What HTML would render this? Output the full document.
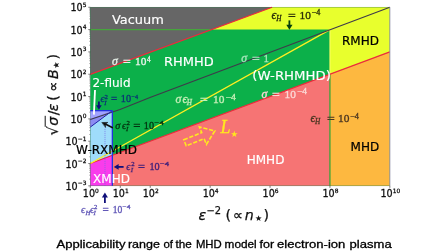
<!DOCTYPE html>
<html><head><meta charset="utf-8"><title>Applicability range of the MHD model</title>
<style>
html,body{margin:0;padding:0;background:#fff;}
body{width:448px;height:252px;overflow:hidden;position:relative;font-family:"DejaVu Sans","Liberation Sans",sans-serif;}
svg{position:absolute;left:0;top:0;display:block}
.tk{font-family:"DejaVu Sans","Liberation Sans",sans-serif;font-size:9.6px;fill:#111;stroke:#111;stroke-width:0.28px}
.sl{font-family:"DejaVu Sans","Liberation Sans",sans-serif;font-size:12px}
.m{font-family:"Liberation Serif","DejaVu Serif",serif;font-size:11px}
.m text{stroke-width:0.3px}
.mi{font-style:italic}
.cap{font-family:"Liberation Sans","DejaVu Sans",sans-serif;font-size:11.1px;fill:#000;stroke:#000;stroke-width:0.3px}
</style></head><body>
<svg width="448" height="252" viewBox="0 0 448 252">
<rect width="448" height="252" fill="#fff"/>
<rect x="90.30" y="7.25" width="299.55" height="178.60" fill="#0cb04a"/>
<polygon points="90.30,7.25 272.1,7.25 90.30,74.4" fill="#666666"/>
<polygon points="212.1,29.57 272.1,7.25 389.85,7.25 389.85,51.90 329.94,74.22 329.94,29.57" fill="#e8ff2d"/>
<polygon points="112.35,185.85 112.35,155.31 329.94,74.22 329.94,185.85" fill="#f67474" />
<polygon points="329.94,185.85 329.94,74.22 389.85,51.90 389.85,185.85" fill="#fdb840" />
<polygon points="90.30,163.53 90.30,110.66 112.35,110.66 112.35,155.31" fill="#9fdcfb" />
<polygon points="90.30,185.85 90.30,163.53 112.35,155.31 112.35,185.85" fill="#f93cec" />
<polygon points="90.30,110.66 112.35,110.66 90.30,127.09" fill="#a2a3ff" />
<polygon points="90.30,118.88 112.35,110.66 90.30,127.09" fill="#8c8cf2" />
<line x1="90.30" y1="29.57" x2="212.1" y2="29.57" stroke="#46a53c" stroke-width="1.2"/>
<line x1="329.94" y1="185.85" x2="329.94" y2="74.22" stroke="#3fa33a" stroke-width="1.3" />
<line x1="329.94" y1="74.22" x2="329.94" y2="29.57" stroke="#ffff66" stroke-width="1.0" />
<line x1="90.30" y1="74.4" x2="272.1" y2="7.25" stroke="#ee2a3c" stroke-width="1.2"/>
<line x1="90.30" y1="163.53" x2="389.85" y2="51.90" stroke="#ee2a3c" stroke-width="1.2" />
<line x1="90.30" y1="163.53" x2="329.94" y2="29.57" stroke="#ffee22" stroke-width="1.3" />
<polyline points="90.30,119.5 120,109.4 150,97.4 389.85,7.25" fill="none" stroke="#3e3a4a" stroke-width="1.1"/>
<line x1="90.30" y1="127.09" x2="112.35" y2="110.66" stroke="#2222aa" stroke-width="1.0" />
<line x1="90.30" y1="110.66" x2="112.35" y2="110.66" stroke="#2233dd" stroke-width="1.3" />
<line x1="112.35" y1="110.66" x2="112.35" y2="185.85" stroke="#2233dd" stroke-width="1.3" />
<line x1="105.00" y1="185.85" x2="105.00" y2="127.36" stroke="#7464e2" stroke-width="0.9" stroke-dasharray="1,1" opacity="0.8"/>
<rect x="90.30" y="7.25" width="299.55" height="178.60" fill="none" stroke="#333" stroke-opacity="0.3" stroke-width="0.6"/>
<line x1="389.85" y1="7.25" x2="389.85" y2="185.85" stroke="#9a9ab8" stroke-width="0.8"/>
<line x1="88.30" y1="185.85" x2="90.30" y2="185.85" stroke="#222" stroke-width="0.6"/>
<text x="86.40" y="189.85" text-anchor="end" class="tk">10<tspan dy="-4.7" font-size="5.9">−3</tspan></text>
<line x1="89.10" y1="179.13" x2="90.30" y2="179.13" stroke="#444" stroke-width="0.4"/>
<line x1="89.10" y1="175.20" x2="90.30" y2="175.20" stroke="#444" stroke-width="0.4"/>
<line x1="89.10" y1="172.41" x2="90.30" y2="172.41" stroke="#444" stroke-width="0.4"/>
<line x1="89.10" y1="170.25" x2="90.30" y2="170.25" stroke="#444" stroke-width="0.4"/>
<line x1="89.10" y1="168.48" x2="90.30" y2="168.48" stroke="#444" stroke-width="0.4"/>
<line x1="89.10" y1="166.98" x2="90.30" y2="166.98" stroke="#444" stroke-width="0.4"/>
<line x1="89.10" y1="165.69" x2="90.30" y2="165.69" stroke="#444" stroke-width="0.4"/>
<line x1="89.10" y1="164.55" x2="90.30" y2="164.55" stroke="#444" stroke-width="0.4"/>
<line x1="88.30" y1="163.53" x2="90.30" y2="163.53" stroke="#222" stroke-width="0.6"/>
<text x="86.40" y="167.53" text-anchor="end" class="tk">10<tspan dy="-4.7" font-size="5.9">−2</tspan></text>
<line x1="89.10" y1="156.80" x2="90.30" y2="156.80" stroke="#444" stroke-width="0.4"/>
<line x1="89.10" y1="152.87" x2="90.30" y2="152.87" stroke="#444" stroke-width="0.4"/>
<line x1="89.10" y1="150.08" x2="90.30" y2="150.08" stroke="#444" stroke-width="0.4"/>
<line x1="89.10" y1="147.92" x2="90.30" y2="147.92" stroke="#444" stroke-width="0.4"/>
<line x1="89.10" y1="146.15" x2="90.30" y2="146.15" stroke="#444" stroke-width="0.4"/>
<line x1="89.10" y1="144.66" x2="90.30" y2="144.66" stroke="#444" stroke-width="0.4"/>
<line x1="89.10" y1="143.36" x2="90.30" y2="143.36" stroke="#444" stroke-width="0.4"/>
<line x1="89.10" y1="142.22" x2="90.30" y2="142.22" stroke="#444" stroke-width="0.4"/>
<line x1="88.30" y1="141.20" x2="90.30" y2="141.20" stroke="#222" stroke-width="0.6"/>
<text x="86.40" y="145.20" text-anchor="end" class="tk">10<tspan dy="-4.7" font-size="5.9">−1</tspan></text>
<line x1="89.10" y1="134.48" x2="90.30" y2="134.48" stroke="#444" stroke-width="0.4"/>
<line x1="89.10" y1="130.55" x2="90.30" y2="130.55" stroke="#444" stroke-width="0.4"/>
<line x1="89.10" y1="127.76" x2="90.30" y2="127.76" stroke="#444" stroke-width="0.4"/>
<line x1="89.10" y1="125.60" x2="90.30" y2="125.60" stroke="#444" stroke-width="0.4"/>
<line x1="89.10" y1="123.83" x2="90.30" y2="123.83" stroke="#444" stroke-width="0.4"/>
<line x1="89.10" y1="122.33" x2="90.30" y2="122.33" stroke="#444" stroke-width="0.4"/>
<line x1="89.10" y1="121.04" x2="90.30" y2="121.04" stroke="#444" stroke-width="0.4"/>
<line x1="89.10" y1="119.90" x2="90.30" y2="119.90" stroke="#444" stroke-width="0.4"/>
<line x1="88.30" y1="118.88" x2="90.30" y2="118.88" stroke="#222" stroke-width="0.6"/>
<text x="86.40" y="122.88" text-anchor="end" class="tk">10<tspan dy="-4.7" font-size="5.9">0</tspan></text>
<line x1="89.10" y1="112.15" x2="90.30" y2="112.15" stroke="#444" stroke-width="0.4"/>
<line x1="89.10" y1="108.22" x2="90.30" y2="108.22" stroke="#444" stroke-width="0.4"/>
<line x1="89.10" y1="105.43" x2="90.30" y2="105.43" stroke="#444" stroke-width="0.4"/>
<line x1="89.10" y1="103.27" x2="90.30" y2="103.27" stroke="#444" stroke-width="0.4"/>
<line x1="89.10" y1="101.50" x2="90.30" y2="101.50" stroke="#444" stroke-width="0.4"/>
<line x1="89.10" y1="100.01" x2="90.30" y2="100.01" stroke="#444" stroke-width="0.4"/>
<line x1="89.10" y1="98.71" x2="90.30" y2="98.71" stroke="#444" stroke-width="0.4"/>
<line x1="89.10" y1="97.57" x2="90.30" y2="97.57" stroke="#444" stroke-width="0.4"/>
<line x1="88.30" y1="96.55" x2="90.30" y2="96.55" stroke="#222" stroke-width="0.6"/>
<text x="86.40" y="100.55" text-anchor="end" class="tk">10<tspan dy="-4.7" font-size="5.9">1</tspan></text>
<line x1="89.10" y1="89.83" x2="90.30" y2="89.83" stroke="#444" stroke-width="0.4"/>
<line x1="89.10" y1="85.90" x2="90.30" y2="85.90" stroke="#444" stroke-width="0.4"/>
<line x1="89.10" y1="83.11" x2="90.30" y2="83.11" stroke="#444" stroke-width="0.4"/>
<line x1="89.10" y1="80.95" x2="90.30" y2="80.95" stroke="#444" stroke-width="0.4"/>
<line x1="89.10" y1="79.18" x2="90.30" y2="79.18" stroke="#444" stroke-width="0.4"/>
<line x1="89.10" y1="77.68" x2="90.30" y2="77.68" stroke="#444" stroke-width="0.4"/>
<line x1="89.10" y1="76.39" x2="90.30" y2="76.39" stroke="#444" stroke-width="0.4"/>
<line x1="89.10" y1="75.25" x2="90.30" y2="75.25" stroke="#444" stroke-width="0.4"/>
<line x1="88.30" y1="74.22" x2="90.30" y2="74.22" stroke="#222" stroke-width="0.6"/>
<text x="86.40" y="78.22" text-anchor="end" class="tk">10<tspan dy="-4.7" font-size="5.9">2</tspan></text>
<line x1="89.10" y1="67.50" x2="90.30" y2="67.50" stroke="#444" stroke-width="0.4"/>
<line x1="89.10" y1="63.57" x2="90.30" y2="63.57" stroke="#444" stroke-width="0.4"/>
<line x1="89.10" y1="60.78" x2="90.30" y2="60.78" stroke="#444" stroke-width="0.4"/>
<line x1="89.10" y1="58.62" x2="90.30" y2="58.62" stroke="#444" stroke-width="0.4"/>
<line x1="89.10" y1="56.85" x2="90.30" y2="56.85" stroke="#444" stroke-width="0.4"/>
<line x1="89.10" y1="55.36" x2="90.30" y2="55.36" stroke="#444" stroke-width="0.4"/>
<line x1="89.10" y1="54.06" x2="90.30" y2="54.06" stroke="#444" stroke-width="0.4"/>
<line x1="89.10" y1="52.92" x2="90.30" y2="52.92" stroke="#444" stroke-width="0.4"/>
<line x1="88.30" y1="51.90" x2="90.30" y2="51.90" stroke="#222" stroke-width="0.6"/>
<text x="86.40" y="55.90" text-anchor="end" class="tk">10<tspan dy="-4.7" font-size="5.9">3</tspan></text>
<line x1="89.10" y1="45.18" x2="90.30" y2="45.18" stroke="#444" stroke-width="0.4"/>
<line x1="89.10" y1="41.25" x2="90.30" y2="41.25" stroke="#444" stroke-width="0.4"/>
<line x1="89.10" y1="38.46" x2="90.30" y2="38.46" stroke="#444" stroke-width="0.4"/>
<line x1="89.10" y1="36.30" x2="90.30" y2="36.30" stroke="#444" stroke-width="0.4"/>
<line x1="89.10" y1="34.53" x2="90.30" y2="34.53" stroke="#444" stroke-width="0.4"/>
<line x1="89.10" y1="33.03" x2="90.30" y2="33.03" stroke="#444" stroke-width="0.4"/>
<line x1="89.10" y1="31.74" x2="90.30" y2="31.74" stroke="#444" stroke-width="0.4"/>
<line x1="89.10" y1="30.60" x2="90.30" y2="30.60" stroke="#444" stroke-width="0.4"/>
<line x1="88.30" y1="29.57" x2="90.30" y2="29.57" stroke="#222" stroke-width="0.6"/>
<text x="86.40" y="33.57" text-anchor="end" class="tk">10<tspan dy="-4.7" font-size="5.9">4</tspan></text>
<line x1="89.10" y1="22.85" x2="90.30" y2="22.85" stroke="#444" stroke-width="0.4"/>
<line x1="89.10" y1="18.92" x2="90.30" y2="18.92" stroke="#444" stroke-width="0.4"/>
<line x1="89.10" y1="16.13" x2="90.30" y2="16.13" stroke="#444" stroke-width="0.4"/>
<line x1="89.10" y1="13.97" x2="90.30" y2="13.97" stroke="#444" stroke-width="0.4"/>
<line x1="89.10" y1="12.20" x2="90.30" y2="12.20" stroke="#444" stroke-width="0.4"/>
<line x1="89.10" y1="10.71" x2="90.30" y2="10.71" stroke="#444" stroke-width="0.4"/>
<line x1="89.10" y1="9.41" x2="90.30" y2="9.41" stroke="#444" stroke-width="0.4"/>
<line x1="89.10" y1="8.27" x2="90.30" y2="8.27" stroke="#444" stroke-width="0.4"/>
<line x1="88.30" y1="7.25" x2="90.30" y2="7.25" stroke="#222" stroke-width="0.6"/>
<text x="86.40" y="11.25" text-anchor="end" class="tk">10<tspan dy="-4.7" font-size="5.9">5</tspan></text>
<line x1="90.30" y1="185.85" x2="90.30" y2="187.85" stroke="#222" stroke-width="0.6"/>
<text x="90.80" y="197.45" text-anchor="middle" class="tk">10<tspan dy="-4.7" font-size="5.9">0</tspan></text>
<line x1="120.25" y1="185.85" x2="120.25" y2="187.85" stroke="#222" stroke-width="0.6"/>
<text x="120.75" y="197.45" text-anchor="middle" class="tk">10<tspan dy="-4.7" font-size="5.9">1</tspan></text>
<line x1="150.21" y1="185.85" x2="150.21" y2="187.85" stroke="#222" stroke-width="0.6"/>
<text x="150.71" y="197.45" text-anchor="middle" class="tk">10<tspan dy="-4.7" font-size="5.9">2</tspan></text>
<line x1="210.12" y1="185.85" x2="210.12" y2="187.85" stroke="#222" stroke-width="0.6"/>
<text x="210.62" y="197.45" text-anchor="middle" class="tk">10<tspan dy="-4.7" font-size="5.9">4</tspan></text>
<line x1="270.03" y1="185.85" x2="270.03" y2="187.85" stroke="#222" stroke-width="0.6"/>
<text x="270.53" y="197.45" text-anchor="middle" class="tk">10<tspan dy="-4.7" font-size="5.9">6</tspan></text>
<line x1="329.94" y1="185.85" x2="329.94" y2="187.85" stroke="#222" stroke-width="0.6"/>
<text x="330.44" y="197.45" text-anchor="middle" class="tk">10<tspan dy="-4.7" font-size="5.9">8</tspan></text>
<line x1="389.85" y1="185.85" x2="389.85" y2="187.85" stroke="#222" stroke-width="0.6"/>
<text x="390.35" y="197.45" text-anchor="middle" class="tk">10<tspan dy="-4.7" font-size="5.9">10</tspan></text>
<!-- region labels -->
<text class="sl" transform="translate(112.00,24.00) scale(1.055,1)" fill="#fff" stroke="#fff" stroke-width="0.15" style="font-size:12.25px">Vacuum</text>
<text class="sl" transform="translate(163.90,65.60) scale(1.065,1)" fill="#fff" stroke="#fff" stroke-width="0.15" style="font-size:12.20px">RHMHD</text>
<text class="sl" transform="translate(252.30,79.70) scale(1.09,1)" fill="#fff" stroke="#fff" stroke-width="0.15" style="font-size:12.20px">(W-RHMHD)</text>
<text class="sl" transform="translate(342.00,45.10) scale(1.055,1)" fill="#000" stroke="#000" stroke-width="0.2" style="font-size:11.40px">RMHD</text>
<text class="sl" transform="translate(350.60,150.60) scale(1.055,1)" fill="#000" stroke="#000" stroke-width="0.2" style="font-size:11.40px">MHD</text>
<text class="sl" transform="translate(246.70,164.00) scale(1.055,1)" fill="#fff" stroke="#fff" stroke-width="0.15" style="font-size:11.40px">HMHD</text>
<text class="sl" transform="translate(92.40,87.30) scale(1.055,1)" fill="#fff" stroke="#fff" stroke-width="0.15" style="font-size:11.40px">2-fluid</text>
<text class="sl" transform="translate(76.00,154.30) scale(1.055,1)" fill="#000" stroke="#000" stroke-width="0.2" style="font-size:11.40px">W-RXMHD</text>
<text class="sl" transform="translate(93.10,182.60) scale(1.055,1)" fill="#fff" stroke="#fff" stroke-width="0.15" style="font-size:11.40px">XMHD</text>
<line x1="95" y1="90" x2="93.9" y2="114.6" stroke="#fff" stroke-width="1.8"/>
<!-- math labels -->
<g class="m">
<text y="65.40" fill="#e9f3ea" stroke="#e9f3ea" stroke-width="0.3" font-size="11.00px"><tspan x="112.00" y="65.40" font-style="italic" font-size="11.77px">σ</tspan><tspan x="122.90" y="65.40" textLength="7.80" lengthAdjust="spacingAndGlyphs">=</tspan><tspan x="135.00" y="65.40" textLength="11.40" lengthAdjust="spacingAndGlyphs">10</tspan><tspan x="147.00" y="61.70" font-size="7.20px">4</tspan></text>
<text y="61.50" fill="#a6e6bb" stroke="#a6e6bb" stroke-width="0.3" font-size="11.00px"><tspan x="241.30" y="61.50" font-style="italic" font-size="11.77px">σ</tspan><tspan x="252.00" y="61.50" textLength="7.80" lengthAdjust="spacingAndGlyphs">=</tspan><tspan x="263.60" y="61.50">1</tspan></text>
<text y="103.20" fill="#c4efb6" stroke="#c4efb6" stroke-width="0.3" font-size="11.00px"><tspan x="175.60" y="103.20" font-style="italic" font-size="11.77px">σ</tspan><tspan x="182.40" y="103.20" font-style="italic" font-size="11.77px">ϵ</tspan><tspan x="186.80" y="105.20" font-size="7.20px" font-style="italic">H</tspan><tspan x="200.00" y="103.20" textLength="7.80" lengthAdjust="spacingAndGlyphs">=</tspan><tspan x="213.00" y="103.20" textLength="11.40" lengthAdjust="spacingAndGlyphs">10</tspan><tspan x="225.60" y="99.50" font-size="7.20px" textLength="10.20" lengthAdjust="spacingAndGlyphs">−4</tspan></text>
<text y="97.60" fill="#fbd9d6" stroke="#fbd9d6" stroke-width="0.3" font-size="11.00px"><tspan x="261.40" y="97.60" font-style="italic" font-size="11.77px">σ</tspan><tspan x="272.00" y="97.60" textLength="7.80" lengthAdjust="spacingAndGlyphs">=</tspan><tspan x="284.50" y="97.60" textLength="11.40" lengthAdjust="spacingAndGlyphs">10</tspan><tspan x="297.00" y="93.90" font-size="7.20px" textLength="10.00" lengthAdjust="spacingAndGlyphs">−4</tspan></text>
<text y="18.80" fill="#2a2f08" stroke="#2a2f08" stroke-width="0.3" font-size="11.00px"><tspan x="271.60" y="18.80" font-style="italic" font-size="11.77px">ϵ</tspan><tspan x="276.20" y="20.80" font-size="7.20px" font-style="italic">H</tspan><tspan x="288.00" y="18.80" textLength="7.80" lengthAdjust="spacingAndGlyphs">=</tspan><tspan x="299.50" y="18.80" textLength="11.40" lengthAdjust="spacingAndGlyphs">10</tspan><tspan x="311.60" y="15.10" font-size="7.20px" textLength="8.60" lengthAdjust="spacingAndGlyphs">−4</tspan></text>
<text y="122.30" fill="#4a3520" stroke="#4a3520" stroke-width="0.3" font-size="11.00px"><tspan x="310.40" y="122.30" font-style="italic" font-size="11.77px">ϵ</tspan><tspan x="315.00" y="124.30" font-size="7.20px" font-style="italic">H</tspan><tspan x="327.00" y="122.30" textLength="7.80" lengthAdjust="spacingAndGlyphs">=</tspan><tspan x="338.00" y="122.30" textLength="11.40" lengthAdjust="spacingAndGlyphs">10</tspan><tspan x="350.00" y="118.60" font-size="7.20px" textLength="8.80" lengthAdjust="spacingAndGlyphs">−4</tspan></text>
<text y="102.20" fill="#0b3575" stroke="#0b3575" stroke-width="0.3" font-size="9.60px"><tspan x="100.50" y="102.20" font-style="italic" font-size="10.27px">ϵ</tspan><tspan x="104.60" y="98.60" font-size="6.80px">2</tspan><tspan x="104.30" y="104.80" font-size="6.80px" font-style="italic">I</tspan><tspan x="111.00" y="102.20" textLength="6.20" lengthAdjust="spacingAndGlyphs">=</tspan><tspan x="120.80" y="102.20" textLength="10.20" lengthAdjust="spacingAndGlyphs">10</tspan><tspan x="131.40" y="98.60" font-size="6.80px" textLength="6.60" lengthAdjust="spacingAndGlyphs">−4</tspan></text>
<text y="128.50" fill="#03340f" stroke="#03340f" stroke-width="0.3" font-size="9.60px"><tspan x="115.30" y="128.50" font-style="italic" font-size="10.27px">σ</tspan><tspan x="122.10" y="128.50" font-style="italic" font-size="10.27px">ϵ</tspan><tspan x="126.60" y="124.90" font-size="6.80px">2</tspan><tspan x="126.10" y="131.10" font-size="6.80px" font-style="italic">I</tspan><tspan x="133.20" y="128.50" textLength="7.20" lengthAdjust="spacingAndGlyphs">=</tspan><tspan x="143.80" y="128.50" textLength="10.20" lengthAdjust="spacingAndGlyphs">10</tspan><tspan x="154.60" y="124.90" font-size="6.80px" textLength="9.20" lengthAdjust="spacingAndGlyphs">−4</tspan></text>
<text y="169.50" fill="#42207a" stroke="#42207a" stroke-width="0.3" font-size="9.60px"><tspan x="126.20" y="169.50" font-style="italic" font-size="10.27px">ϵ</tspan><tspan x="131.20" y="165.90" font-size="6.80px">2</tspan><tspan x="130.80" y="172.10" font-size="6.80px" font-style="italic">I</tspan><tspan x="138.10" y="169.50" textLength="7.00" lengthAdjust="spacingAndGlyphs">=</tspan><tspan x="149.50" y="169.50" textLength="10.20" lengthAdjust="spacingAndGlyphs">10</tspan><tspan x="160.00" y="165.90" font-size="6.80px" textLength="9.20" lengthAdjust="spacingAndGlyphs">−4</tspan></text>
<text y="212.50" fill="#6258b8" stroke="#6258b8" stroke-width="0.12" font-size="9.60px"><tspan x="81.00" y="212.50" font-style="italic" font-size="10.27px">ϵ</tspan><tspan x="85.40" y="215.10" font-size="6.80px" font-style="italic">H</tspan><tspan x="89.90" y="212.50" font-style="italic" font-size="10.27px">ϵ</tspan><tspan x="94.00" y="208.90" font-size="6.80px">2</tspan><tspan x="93.60" y="215.10" font-size="6.80px" font-style="italic">I</tspan><tspan x="102.40" y="212.50" textLength="6.30" lengthAdjust="spacingAndGlyphs">=</tspan><tspan x="112.80" y="212.50" textLength="9.60" lengthAdjust="spacingAndGlyphs">10</tspan><tspan x="122.60" y="208.90" font-size="6.80px" textLength="8.00" lengthAdjust="spacingAndGlyphs">−4</tspan></text>
</g>

<!-- arrows -->
<g stroke="#10107a" fill="#10107a" stroke-width="1.8">
<line x1="98.9" y1="101.4" x2="98.9" y2="106.5"/><polygon points="96.1,105.2 101.7,105.2 98.9,109.8" stroke="none"/>
<line x1="123.6" y1="166.9" x2="117.5" y2="166.9"/><polygon points="118.6,164.1 118.6,169.7 113.8,166.9" stroke="none"/>
<line x1="104.9" y1="203" x2="104.9" y2="196"/><polygon points="101.9,197.4 107.9,197.4 104.9,192.4" stroke="none"/>
</g>
<g stroke="#111" fill="none" stroke-width="1.7" stroke-linecap="round" stroke-linejoin="round">
<line x1="112.20" y1="127.50" x2="105.78" y2="124.29"/><polygon points="102.20,122.50 107.83,122.41 105.42,124.11 105.51,127.06" fill="#111" stroke-width="0.6"/>
</g>
<g stroke="#063f0c" fill="#063f0c" stroke-width="1.8">
<line x1="289.4" y1="20.4" x2="289.4" y2="26"/><polygon points="286.3,24.8 292.5,24.8 289.4,29.8" stroke="none"/>
</g>
<!-- dashed arrow + L star -->
<polygon points="183.79,139.78 201.71,132.64 199.42,126.94 214.8,130.9 206.42,144.38 204.13,138.68 186.21,145.82" fill="none" stroke="#ffe81e" stroke-width="1.6" stroke-dasharray="4.2,1.7"/>
<text x="220.5" y="133" font-family="Liberation Serif, serif" font-style="italic" font-size="18px" fill="#ffe81e" stroke="#ffe81e" stroke-width="0.3">L</text>
<text x="230.5" y="137.4" font-family="DejaVu Sans, sans-serif" font-size="8.5px" fill="#ffe81e">★</text>

<!-- axis labels -->
<g font-family="DejaVu Sans, sans-serif" font-size="14.2px" fill="#111" stroke="#111" stroke-width="0.25">
<text x="198.4" y="219.6"><tspan font-style="oblique">ε</tspan><tspan x="206.6" dy="-5.2" font-size="9.9px">−2</tspan><tspan x="225.4" dy="5.2">(</tspan><tspan x="233" >∝</tspan><tspan x="244.7" font-style="oblique">n</tspan><tspan x="255" dy="2.6" font-size="11.5px" stroke-width="0.6">⋆</tspan><tspan x="263.6" dy="-2.6">)</tspan></text>
<g transform="translate(57.6,135.4) rotate(-90)">
<text x="0" y="0"><tspan>√</tspan><tspan x="9.6" font-style="oblique">σ</tspan><tspan x="20.2">/</tspan><tspan x="24.2" font-style="oblique">ε</tspan><tspan x="34.6">(</tspan><tspan x="43.8">∝</tspan><tspan x="56.3" font-style="oblique">B</tspan><tspan x="66.6" dy="2.6" font-size="11.5px" stroke-width="0.6">⋆</tspan><tspan x="75.8" dy="-2.6">)</tspan></text>
<line x1="8.6" y1="-12.4" x2="19.6" y2="-12.4" stroke="#111" stroke-width="1"/>
</g>
</g>
<!-- caption -->
<text class="cap" y="248.4"><tspan x="56.5" textLength="68.9" lengthAdjust="spacingAndGlyphs">Applicability</tspan> <tspan x="127.9" textLength="32.0" lengthAdjust="spacingAndGlyphs">range</tspan> <tspan x="163.4" textLength="9.5" lengthAdjust="spacingAndGlyphs">of</tspan> <tspan x="175.4" textLength="16.3" lengthAdjust="spacingAndGlyphs">the</tspan> <tspan x="195.9" textLength="25.8" lengthAdjust="spacingAndGlyphs">MHD</tspan> <tspan x="224.6" textLength="32.1" lengthAdjust="spacingAndGlyphs">model</tspan> <tspan x="259.6" textLength="14.6" lengthAdjust="spacingAndGlyphs">for</tspan> <tspan x="277.1" textLength="68.3" lengthAdjust="spacingAndGlyphs">electron-ion</tspan> <tspan x="349.6" textLength="42.2" lengthAdjust="spacingAndGlyphs">plasma</tspan></text>
</svg>
</body></html>
